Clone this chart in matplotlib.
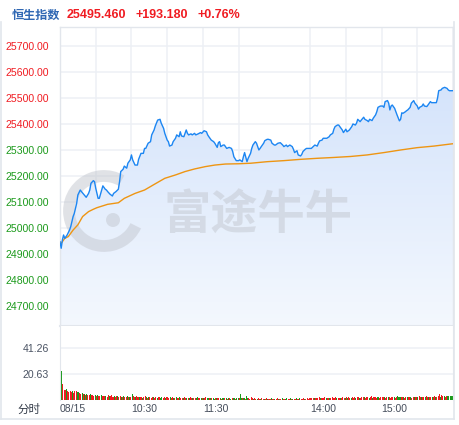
import numpy as np
import matplotlib
matplotlib.use('Agg')
import matplotlib.pyplot as plt
from matplotlib.colors import LinearSegmentedColormap
from matplotlib.patches import Arc, Circle
from matplotlib.lines import Line2D
import matplotlib.transforms as mtransforms

# header
index_name = "恒生指数"
last_price = "25495.460"
change = "+193.180"
change_pct = "+0.76%"
prev_close = 25302.28

# minute offsets from 09:30 (lunch break collapsed, 330 min total)
price_min = [0, 1, 2, 3, 4, 6, 8, 9, 11, 12, 14, 15, 17, 18, 21, 22, 24, 25, 26, 28, 29, 30, 32, 33, 35,
             36, 38, 39, 40, 42, 44, 45, 47, 49, 50, 51, 53, 54, 56, 57, 59, 60, 61, 63, 65, 66, 68, 70,
             71, 72, 74, 76, 77, 79, 80, 81, 82, 84, 85, 87, 88, 90, 91, 92, 94, 95, 97, 98, 100, 101,
             102, 104, 106, 107, 108, 110, 111, 113, 114, 116, 118, 119, 121, 123, 124, 125, 127, 129,
             130, 132, 133, 134, 135, 137, 138, 140, 142, 144, 145, 146, 148, 150, 151, 153, 154, 155,
             157, 158, 160, 161, 162, 164, 165, 167, 168, 169, 171, 172, 174, 175, 177, 178, 180, 181,
             183, 185, 187, 188, 190, 191, 193, 195, 196, 197, 199, 200, 202, 203, 204, 206, 207, 209,
             211, 213, 214, 216, 217, 218, 220, 221, 223, 224, 226, 227, 229, 230, 231, 233, 234, 236,
             237, 238, 240, 241, 243, 245, 246, 248, 249, 250, 252, 253, 255, 256, 258, 259, 260, 262,
             263, 265, 266, 267, 269, 271, 272, 273, 275, 276, 277, 278, 279, 281, 282, 283, 285, 286,
             287, 288, 290, 291, 292, 294, 295, 297, 298, 300, 301, 302, 304, 305, 306, 308, 309, 311,
             312, 313, 316, 317, 318, 320, 321, 323, 325, 326, 327, 330]
price_val = [24947, 24922, 24954, 24973, 24960, 24973, 24992, 25005, 25044, 25056, 25095, 25127, 25146,
             25140, 25123, 25118, 25133, 25146, 25172, 25182, 25178, 25153, 25114, 25114, 25146, 25162,
             25149, 25146, 25140, 25130, 25123, 25133, 25140, 25149, 25178, 25217, 25226, 25238, 25230,
             25249, 25262, 25281, 25262, 25242, 25242, 25264, 25287, 25287, 25306, 25306, 25326, 25332,
             25358, 25377, 25392, 25403, 25415, 25418, 25403, 25383, 25364, 25338, 25332, 25315, 25319,
             25332, 25345, 25358, 25351, 25370, 25354, 25351, 25377, 25364, 25358, 25362, 25358, 25364,
             25358, 25362, 25367, 25364, 25374, 25370, 25358, 25351, 25338, 25332, 25326, 25310, 25328,
             25332, 25313, 25319, 25319, 25306, 25310, 25306, 25294, 25274, 25259, 25259, 25262, 25255,
             25274, 25290, 25255, 25268, 25287, 25306, 25319, 25332, 25326, 25300, 25306, 25313, 25326,
             25336, 25341, 25341, 25338, 25326, 25319, 25319, 25326, 25328, 25319, 25313, 25319, 25313,
             25319, 25313, 25303, 25290, 25297, 25281, 25277, 25283, 25294, 25303, 25306, 25306, 25306,
             25315, 25319, 25315, 25326, 25335, 25338, 25345, 25345, 25345, 25351, 25358, 25364, 25380,
             25390, 25396, 25396, 25383, 25377, 25367, 25380, 25370, 25377, 25390, 25400, 25396, 25403,
             25418, 25409, 25415, 25426, 25418, 25413, 25409, 25418, 25413, 25422, 25435, 25447, 25464,
             25469, 25469, 25464, 25486, 25490, 25480, 25454, 25469, 25473, 25460, 25447, 25435, 25412,
             25418, 25443, 25441, 25447, 25451, 25454, 25464, 25480, 25490, 25480, 25469, 25457, 25464,
             25469, 25477, 25469, 25467, 25473, 25486, 25482, 25482, 25482, 25499, 25528, 25531, 25537,
             25541, 25537, 25531, 25528, 25528]

avg_min = [0, 4, 7, 11, 15, 19, 24, 28, 31, 40, 49, 54, 63, 71, 80, 88, 97, 105, 113, 122, 130, 139,
           150, 160, 174, 188, 202, 216, 229, 244, 258, 272, 286, 300, 314, 328, 330]
avg_val = [24935, 24960, 24967, 24992, 25012, 25044, 25063, 25072, 25078, 25091, 25097, 25114, 25133,
           25146, 25170, 25191, 25204, 25217, 25227, 25236, 25242, 25246, 25247, 25249, 25255, 25259,
           25264, 25268, 25271, 25275, 25281, 25290, 25300, 25309, 25315, 25323, 25324]

# volume per minute, in 30-minute blocks
vol_blocks = [
    [19.0, 23.3, 12.7, 8.0, 7.9, 8.7, 7.1, 6.6, 7.0, 6.6, 6.9, 5.8, 7.4, 7.0, 6.2, 6.6, 5.5, 5.0, 5.3, 4.6, 5.0, 4.2, 4.6, 4.0, 3.8, 4.8, 3.6, 4.2, 3.4, 3.7],
    [3.4, 4.0, 3.2, 3.0, 3.6, 3.2, 2.8, 3.4, 3.0, 2.6, 3.8, 3.2, 2.8, 3.6, 2.6, 3.0, 2.4, 2.8, 3.4, 2.6, 3.0, 2.2, 2.6, 3.0, 2.4, 2.0, 2.8, 2.4, 2.2, 2.6],
    [4.8, 3.0, 2.6, 2.2, 2.8, 2.4, 2.0, 2.6, 2.2, 1.8, 2.4, 2.8, 2.0, 1.6, 2.2, 2.6, 1.8, 2.0, 2.4, 1.6, 2.2, 1.8, 2.6, 2.0, 1.6, 2.2, 1.8, 2.4, 1.6, 2.0],
    [2.2, 1.6, 2.0, 1.8, 2.4, 1.4, 1.8, 2.0, 1.6, 1.4, 2.2, 1.6, 1.8, 1.4, 2.0, 1.6, 1.2, 1.8, 1.4, 2.0, 1.6, 1.2, 1.8, 1.4, 1.6, 2.4, 1.4, 1.2, 1.6, 1.8],
    [1.6, 1.4, 2.0, 1.2, 1.6, 1.8, 1.4, 1.2, 1.6, 1.0, 1.4, 1.2, 1.8, 1.4, 1.2, 1.0, 1.6, 1.4, 1.2, 1.8, 1.0, 1.4, 1.2, 1.0, 1.6, 1.2, 1.4, 1.0, 1.2, 1.4],
    [1.2, 4.8, 1.6, 1.2, 1.4, 1.0, 3.2, 1.4, 1.2, 1.0, 2.6, 1.2, 1.0, 1.4, 1.0, 0.8, 1.2, 1.0, 0.8, 1.2, 1.0, 0.8, 1.0, 1.2, 0.8, 1.0, 0.8, 1.2, 1.0, 0.8],
    [1.0, 0.8, 1.2, 0.8, 1.0, 0.8, 1.2, 1.0, 0.8, 1.0, 1.4, 0.8, 1.0, 1.2, 0.8, 1.0, 0.8, 1.0, 1.2, 0.8, 1.0, 1.2, 0.8, 1.0, 1.4, 1.0, 0.8, 1.2, 1.0, 1.2],
    [1.4, 1.6, 1.2, 1.8, 1.4, 1.2, 1.6, 2.0, 1.4, 1.6, 1.2, 1.8, 2.2, 1.4, 1.6, 1.2, 1.8, 1.4, 2.0, 1.6, 1.4, 2.2, 1.6, 1.2, 1.8, 1.6, 1.4, 2.4, 1.6, 1.8],
    [2.0, 1.6, 2.4, 1.8, 1.6, 2.2, 1.8, 2.6, 1.6, 2.0, 2.4, 1.8, 1.6, 2.2, 2.0, 2.6, 1.8, 2.0, 2.4, 1.6, 2.2, 2.8, 1.8, 2.0, 2.4, 1.8, 2.6, 2.0, 1.8, 2.2],
    [2.4, 2.0, 2.6, 1.8, 2.2, 2.0, 2.6, 1.8, 2.2, 2.4, 2.0, 1.8, 2.2, 2.8, 2.6, 2.4, 2.0, 2.2, 2.6, 1.8, 2.2, 2.4, 2.0, 2.6, 2.2, 1.8, 2.4, 2.2, 2.6, 2.0],
    [2.4, 2.8, 2.2, 2.0, 2.6, 2.4, 2.2, 2.8, 2.0, 2.4, 2.6, 2.2, 2.0, 2.6, 3.0, 2.4, 2.2, 3.2, 4.8, 2.6, 3.6, 2.8, 3.0, 2.4, 2.8, 3.2, 3.4, 3.2, 3.2, 3.4],
]
vol_side = ("ggrrrgrrrrgrrrggrrgrgrgrrgrrrg" "rgrrgrrrgrrgrrrgrrgrrgrgrrgrgr" "grrgrrgrrgrrgrgrrrgrrgrrggrrgr"
            "rrgrrgrgrrgrrgrrgrgrrgrrggrrgr" "grrggrgrggrgrrgrggrgrgrgrggrgg" "rggrgrggrrrrgrrgrrgrrgrrgrrgrr"
            "grrgrrgrrggrrgrgrrgrrgrrrgrrrr" "rrrgrrrrgrrrrgrrgrrrrrgrrgrrrg" "rgrrgrrrgrrgrrrgrrrgrrgrrrggrr"
            "rrgrrgrrrrgrrgggrrgrrgrrgrrgrr" "grrgrrgrrgrrgrrgrrrgrrgrrggggg")

price_ticks = [24700, 24800, 24900, 25000, 25100, 25200, 25300, 25400, 25500, 25600, 25700]
vol_ticks = [20.63, 41.26]
time_ticks = [0, 60, 120, 210, 270]
time_labels = ["08/15", "10:30", "11:30", "14:00", "15:00"]
vgrid = [0, 30, 60, 90, 120, 150, 210, 240, 270, 300, 330]

RED = '#f01c22'
GREEN = '#1c9a1c'
GRID = '#edf0f5'
EDGE = '#e2e6ec'
LAT = ['Liberation Sans', 'Noto Sans CJK SC']

W, H = 459, 425
def fx(px):
    return px / W
def fy(py):
    return 1 - py / H

fig = plt.figure(figsize=(W / 100, H / 100), dpi=100)
ax = fig.add_axes([fx(60), fy(326), fx(453) - fx(60), fy(27) - fy(326)])
axv = fig.add_axes([fx(60), fy(400), fx(453) - fx(60), fy(326) - fy(400)])

ymin, ymax = 24623, 25773

# price panel
for t in price_ticks:
    ax.axhline(t, color=GRID, lw=1.1, zorder=0.5)
for m in vgrid:
    ax.axvline(m, color=GRID, lw=1.1, zorder=0.5)

coll = ax.fill_between(price_min, price_val, ymin, facecolor='none', edgecolor='none')
cmap = LinearSegmentedColormap.from_list('fill', ['#f4f8fe', '#d5e4fb'])
im = ax.imshow(np.linspace(0, 1, 256).reshape(-1, 1), extent=[0, 330, ymin, max(price_val)],
               origin='lower', aspect='auto', cmap=cmap, zorder=1, interpolation='bilinear')
im.set_clip_path(coll.get_paths()[0], ax.transData)

# watermark
ax.text(0.505, 0.372, '富途牛牛', transform=ax.transAxes, ha='center', va='center', fontsize=34,
        family='Noto Sans CJK SC', weight='bold', color='#c3c7cf', alpha=0.5, zorder=2)
ident = mtransforms.IdentityTransform()
ax.add_patch(Arc((104, H - 211), 70, 70, theta1=60, theta2=335, lw=8.5, color='#c3c7cf',
                 alpha=0.5, transform=ident, zorder=2))
ax.add_patch(Circle((113, H - 220), 7, color='#c3c7cf', alpha=0.5, transform=ident, zorder=2, lw=0))

ax.plot(avg_min, avg_val, color='#ee9512', lw=1.0, zorder=3)
ax.plot(price_min, price_val, color='#1c86f2', lw=1.0, zorder=4)

ax.set_xlim(0, 330)
ax.set_ylim(ymin, ymax)
ax.set_xticks([])
ax.set_yticks(price_ticks)
ax.set_yticklabels([f"{t:.2f}" for t in price_ticks], family=LAT, fontsize=7.6)
for lbl, t in zip(ax.get_yticklabels(), price_ticks):
    lbl.set_color(RED if t > prev_close else GREEN)
ax.tick_params(axis='y', length=0, pad=8)
for s in ax.spines.values():
    s.set_color(EDGE)
    s.set_linewidth(1.0)
ax.spines['bottom'].set_linewidth(1.5)

# volume panel
vols = np.concatenate(vol_blocks)
colors = [RED if c == 'r' else GREEN for c in vol_side]
vmin = np.arange(len(vols))
for t in vol_ticks:
    axv.axhline(t, color=GRID, lw=1.1, zorder=0.5)
axv.bar(vmin + 0.5, vols, width=0.85, color=colors, lw=0, zorder=2)
axv.set_xlim(0, 330)
axv.set_ylim(0, 58.7)
axv.set_yticks(vol_ticks)
axv.set_yticklabels([f"{t:.2f}" for t in vol_ticks], family=LAT, fontsize=7.6, color='#4a5363')
axv.set_xticks(time_ticks)
axv.set_xticklabels(time_labels, family=LAT, fontsize=7.5, color='#454d5b', ha='left')
axv.tick_params(length=0, pad=3)
axv.tick_params(axis='y', pad=8)
for s in axv.spines.values():
    s.set_color(EDGE)
axv.spines['top'].set_visible(False)
axv.spines['bottom'].set_visible(False)

fig.text(fx(17), fy(409), '分时', family=['Noto Sans CJK SC', 'DejaVu Sans'], fontsize=8.3,
         color='#333b48', va='center', ha='left')

# header
fig.text(fx(12), fy(15), index_name, family=['Noto Sans CJK SC', 'DejaVu Sans'], fontsize=8.7,
         weight='bold', color='#2f67b3', va='center')
fig.text(fx(67), fy(15), last_price, family=LAT, fontsize=9, weight='bold', color=RED, va='center')
fig.text(fx(135), fy(15), change, family=LAT, fontsize=9, weight='bold', color=RED, va='center')
fig.text(fx(197), fy(15), change_pct, family=LAT, fontsize=9, weight='bold', color=RED, va='center')

# outer frame
for xs, ys in [([1, 1], [22, 419]), ([1, 454], [419, 419]), ([454, 454], [22, 419])]:
    fig.add_artist(Line2D([fx(x) for x in xs], [fy(y) for y in ys], color=EDGE, lw=1.2))

fig.savefig('out.png', dpi=100)
